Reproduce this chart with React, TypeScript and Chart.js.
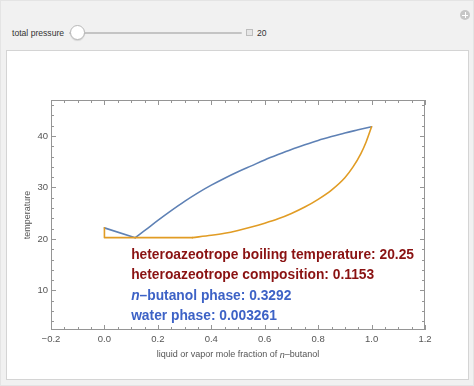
import React, { useEffect, useRef } from "react";
import { Chart, registerables } from "chart.js";

Chart.register(...registerables);

// ---- data ----
const xTickValues = [-0.2, 0, 0.2, 0.4, 0.6, 0.8, 1.0, 1.2];
const yTickValues = [10, 20, 30, 40];

// vapor curve (blue): straight leg from pure water to the heteroazeotrope, then the dew curve
const vaporLegX = [0, 0.1153];
const vaporLegT = [22.15, 20.25];
const vaporX = [0.1153, 0.15, 0.2, 0.25, 0.3, 0.35, 0.4, 0.45, 0.5, 0.55, 0.6, 0.65, 0.7, 0.75, 0.8, 0.85, 0.9, 0.95, 1.0];
const vaporT = [20.25, 21.6, 23.6, 25.5, 27.3, 28.95, 30.45, 31.8, 33.05, 34.2, 35.35, 36.4, 37.4, 38.3, 39.15, 39.9, 40.6, 41.2, 41.8];

// liquid curve (orange): vertical drop, flat three-phase line, then bubble curve
const liquidFlatX = [0, 0, 0.3292];
const liquidFlatT = [22.15, 20.25, 20.25];
const liquidX = [0.3292, 0.4, 0.45, 0.5, 0.55, 0.6, 0.65, 0.7, 0.75, 0.8, 0.85, 0.9, 0.93, 0.96, 0.98, 1.0];
const liquidT = [20.25, 20.7, 21.1, 21.65, 22.3, 23.05, 23.9, 24.95, 26.2, 27.7, 29.5, 31.9, 33.95, 36.6, 38.9, 41.8];

const annotationLines = [
  { italic: "", text: "heteroazeotrope boiling temperature: 20.25", color: "#8a1212" },
  { italic: "", text: "heteroazeotrope composition: 0.1153", color: "#8a1212" },
  { italic: "n", text: "\u2013butanol phase: 0.3292", color: "#3d62c6" },
  { italic: "", text: "water phase: 0.003261", color: "#3d62c6" },
];
const annotationX = 0.1;
const annotationT = [16.85, 12.95, 8.95, 4.97];

const FONT = '"Liberation Sans", Arial, Helvetica, sans-serif';
const BLUE = "#5e81b5";
const ORANGE = "#e19c24";
const FRAME = "#959595";

const toPts = (xs: number[], ys: number[]) => xs.map((x, i) => ({ x, y: ys[i] }));

const framePlugin = {
  id: "mmaFrame",
  beforeDatasetsDraw(chart: any) {
    const { ctx, chartArea: a, scales } = chart;
    const xs = scales.x;
    const ys = scales.y;
    const L = Math.round(a.left);
    const R = Math.round(a.right);
    const T = Math.round(a.top);
    const B = Math.round(a.bottom);
    ctx.save();
    ctx.strokeStyle = FRAME;
    ctx.lineWidth = 1;
    ctx.strokeRect(L + 0.5, T + 0.5, R - L - 1, B - T - 1);
    ctx.beginPath();
    for (let i = -4; i <= 24; i++) {
      const v = i * 0.05;
      const major = i % 4 === 0;
      const len = major ? 5 : 3;
      const p = Math.round(xs.getPixelForValue(v)) + 0.5;
      ctx.moveTo(p, B);
      ctx.lineTo(p, B - len);
      ctx.moveTo(p, T);
      ctx.lineTo(p, T + len);
    }
    for (let i = 1; i <= 23; i++) {
      const v = i * 2;
      if (v < ys.min || v > ys.max) continue;
      const major = v % 10 === 0;
      const len = major ? 5 : 3;
      const p = Math.round(ys.getPixelForValue(v)) + 0.5;
      ctx.moveTo(L, p);
      ctx.lineTo(L + len, p);
      ctx.moveTo(R, p);
      ctx.lineTo(R - len, p);
    }
    ctx.stroke();
    ctx.restore();
  },
  afterDraw(chart: any) {
    const { ctx, chartArea: a, scales } = chart;
    const xs = scales.x;
    const ys = scales.y;
    ctx.save();
    // x title with italic n
    ctx.fillStyle = "#555";
    ctx.textBaseline = "middle";
    const reg = `9px ${FONT}`;
    const ital = `italic 9px ${FONT}`;
    const p1 = "liquid or vapor mole fraction of ";
    const p2 = "n";
    const p3 = "\u2013butanol";
    ctx.font = reg;
    const w1 = ctx.measureText(p1).width;
    const w3 = ctx.measureText(p3).width;
    ctx.font = ital;
    const w2 = ctx.measureText(p2).width;
    const cx = (a.left + a.right) / 2;
    const sx = cx - (w1 + w2 + w3) / 2;
    const ty = a.bottom + 25;
    ctx.textAlign = "left";
    ctx.font = reg;
    ctx.fillText(p1, sx, ty);
    ctx.font = ital;
    ctx.fillText(p2, sx + w1, ty);
    ctx.font = reg;
    ctx.fillText(p3, sx + w1 + w2, ty);

    // y title
    ctx.save();
    ctx.translate(a.left - 23.5, (a.top + a.bottom) / 2);
    ctx.rotate(-Math.PI / 2);
    ctx.textAlign = "center";
    ctx.font = reg;
    ctx.fillText("temperature", 0, 0);
    ctx.restore();

    // annotations
    const bold = `bold 13.8px ${FONT}`;
    const boldItal = `italic bold 13.8px ${FONT}`;
    annotationLines.forEach((ln, i) => {
      const px = xs.getPixelForValue(annotationX);
      const py = ys.getPixelForValue(annotationT[i]);
      ctx.fillStyle = ln.color;
      ctx.textAlign = "left";
      ctx.textBaseline = "middle";
      let off = 0;
      if (ln.italic) {
        ctx.font = boldItal;
        ctx.fillText(ln.italic, px, py);
        off = ctx.measureText(ln.italic).width;
      }
      ctx.font = bold;
      ctx.fillText(ln.text, px + off, py);
    });
    ctx.restore();
  },
};

function PlotCanvas() {
  const ref = useRef<HTMLCanvasElement | null>(null);
  useEffect(() => {
    if (!ref.current) return;
    const fmt = (v: any) => {
      const n = Number(v);
      const s = Math.abs(n).toFixed(1);
      return n < -1e-9 ? "\u2212" + s : s;
    };
    const lineDs = (data: any[], color: string, smooth: boolean) => ({
      data,
      showLine: true,
      borderColor: color,
      backgroundColor: color,
      borderWidth: 1.6,
      pointRadius: 0,
      pointHoverRadius: 0,
      fill: false,
      tension: 0,
      cubicInterpolationMode: smooth ? "monotone" : "default",
      borderCapStyle: "round",
      borderJoinStyle: "round",
    });
    const chart = new Chart(ref.current, {
      type: "scatter",
      data: {
        datasets: [
          lineDs(toPts(liquidFlatX, liquidFlatT), ORANGE, false),
          lineDs(toPts(liquidX, liquidT), ORANGE, true),
          lineDs(toPts(vaporLegX, vaporLegT), BLUE, false),
          lineDs(toPts(vaporX, vaporT), BLUE, true),
        ] as any,
      },
      options: {
        animation: false,
        responsive: false,
        devicePixelRatio: 1,
        events: [],
        layout: { padding: { left: 0, top: 50, right: 44, bottom: 29 } },
        plugins: { legend: { display: false }, tooltip: { enabled: false }, title: { display: false } },
        scales: {
          x: {
            type: "linear",
            min: -0.2,
            max: 1.2,
            grid: { display: false, drawTicks: false },
            border: { display: false },
            afterFit: (s: any) => {
              s.height = 20;
            },
            afterBuildTicks: (s: any) => {
              s.ticks = xTickValues.map((v) => ({ value: v }));
            },
            ticks: {
              padding: 4,
              color: "#555",
              font: { family: FONT, size: 9.5 },
              maxRotation: 0,
              autoSkip: false,
              callback: fmt,
            },
          },
          y: {
            type: "linear",
            min: 2.3,
            max: 47,
            grid: { display: false, drawTicks: false },
            border: { display: false },
            afterFit: (s: any) => {
              s.width = 44;
            },
            afterBuildTicks: (s: any) => {
              s.ticks = yTickValues.map((v) => ({ value: v }));
            },
            ticks: {
              padding: 3,
              color: "#555",
              font: { family: FONT, size: 9.5 },
              autoSkip: false,
              callback: (v: any) => String(v),
            },
          },
        },
      } as any,
      plugins: [framePlugin],
    });
    return () => chart.destroy();
  }, []);
  return (
    <canvas
      ref={ref}
      width={462}
      height={329}
      style={{ position: "absolute", left: 6, top: 49, width: 462, height: 329 }}
    />
  );
}

export default function App() {
  const text: React.CSSProperties = {
    position: "absolute",
    fontFamily: FONT,
    fontSize: 8.6,
    color: "#333",
    lineHeight: "12px",
    whiteSpace: "nowrap",
  };
  return (
    <div
      style={{
        position: "fixed",
        left: 0,
        top: 0,
        width: 474,
        height: 386,
        background: "#f1f1f1",
        overflow: "hidden",
        boxSizing: "border-box",
        border: "1px solid #e4e4e4",
      }}
    >
      {/* top-right plus icon */}
      <div
        style={{
          position: "absolute",
          left: 459,
          top: 9,
          width: 10,
          height: 10,
          borderRadius: 5,
          background: "#c6c6c6",
        }}
      >
        <div style={{ position: "absolute", left: 2, top: 4.5, width: 6, height: 1, background: "#fff" }} />
        <div style={{ position: "absolute", left: 4.5, top: 2, width: 1, height: 6, background: "#fff" }} />
      </div>
      {/* control row */}
      <div style={{ ...text, left: 11, top: 26 }}>total pressure</div>
      <div
        style={{
          position: "absolute",
          left: 68,
          top: 31,
          width: 173,
          height: 2,
          background: "#c4c4c4",
          borderRadius: 1,
        }}
      />
      <div
        style={{
          position: "absolute",
          left: 69,
          top: 24,
          width: 15,
          height: 15,
          borderRadius: 8,
          background: "#fff",
          border: "1px solid #b8b8b8",
          boxSizing: "border-box",
          boxShadow: "0 1px 1px rgba(0,0,0,0.12)",
        }}
      />
      <div
        style={{
          position: "absolute",
          left: 245,
          top: 28,
          width: 7,
          height: 7,
          border: "1px solid #bdbdbd",
          boxSizing: "border-box",
          background: "#e6e6e6",
        }}
      />
      <div style={{ ...text, left: 256, top: 26 }}>20</div>
      {/* white panel */}
      <div
        style={{
          position: "absolute",
          left: 5,
          top: 49,
          width: 463,
          height: 330,
          background: "#fff",
          border: "1px solid #d4d4d4",
          boxSizing: "border-box",
        }}
      />
      <PlotCanvas />
    </div>
  );
}
